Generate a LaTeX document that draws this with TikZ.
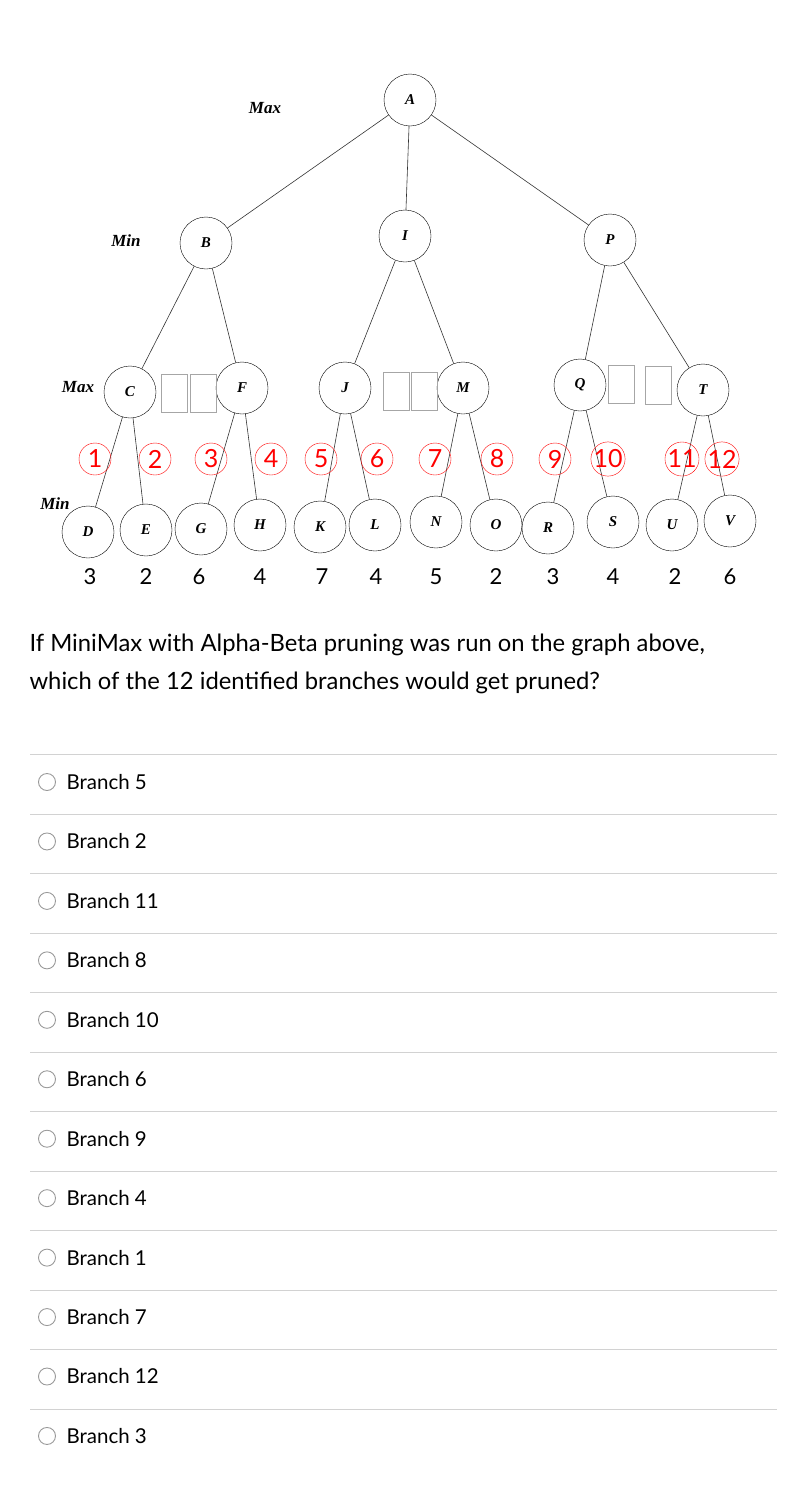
\documentclass[tikz,border=0pt]{standalone}
\usepackage{fontspec}
\setmainfont{Liberation Serif}
\newfontfamily\lato{Lato}
\begin{document}
\begin{tikzpicture}[x=1pt,y=-1pt,
  tn/.style={draw,circle,minimum size=52pt,inner sep=0pt,font=\fontsize{15}{15}\selectfont\bfseries\itshape},
  cn/.style={draw=red,circle,minimum size=32pt,inner sep=0pt,text=red,font=\lato\fontsize{25}{25}\selectfont},
  lv/.style={font=\fontsize{17}{17}\selectfont\bfseries\itshape},
  val/.style={font=\lato\fontsize{22}{22}\selectfont},
  bx/.style={draw=gray!70,minimum width=26pt,minimum height=38pt,inner sep=0pt},
  sep/.style={draw=gray!35,line width=0.8pt},
  opt/.style={anchor=west,font=\lato\fontsize{20.5}{20.5}\selectfont},
  rad/.style={draw=gray!80,circle,minimum size=17pt,inner sep=0pt,line width=0.9pt},
  ed/.style={draw=black!80,line width=0.6pt}]
\useasboundingbox (0,0) rectangle (807,1491);
\node[tn] (A) at (410,100) {A};
\node[tn] (B) at (206,243) {B};
\node[tn] (I) at (405,236) {I};
\node[tn] (P) at (610,240) {P};
\node[tn] (C) at (130,392) {C};
\node[tn] (F) at (242,388) {F};
\node[tn] (J) at (345,388) {J};
\node[tn] (M) at (463,388) {M};
\node[tn] (Q) at (580,385) {Q};
\node[tn] (T) at (703,390) {T};
\foreach \n/\x/\y in {D/88/532,E/146/530,G/201/529,H/260/525,K/320/527,L/375/525,N/436/522,O/496/525,R/548/528,S/613/522,U/672/525,V/730/521}
  \node[tn] (\n) at (\x,\y) {\n};
\foreach \a/\b in {A/B,A/I,A/P,B/C,B/F,I/J,I/M,P/Q,P/T,C/D,C/E,F/G,F/H,J/K,J/L,M/N,M/O,Q/R,Q/S,T/U,T/V}
  \draw[ed] (\a) -- (\b);
\node[bx] (b1) at (174,393) {};
\node[bx] (b2) at (203,393) {};
\node[bx] (b3) at (396,391) {};
\node[bx] (b4) at (424,391) {};
\node[bx] (b5) at (621,384) {};
\node[bx] (b6) at (658,385) {};
\foreach \i/\x in {1/95,2/155,3/211,4/271,5/321,6/377,7/435,8/497,9/555,10/608,11/682,12/722}
  \node[cn] (c\i) at (\x,459) {\i};
\foreach \i/\x/\v in {1/90/3,2/146/2,3/199/6,4/260/4,5/322/7,6/376/4,7/436/5,8/496/2,9/553/3,10/613/4,11/675/2,12/730/6}
  \node[val] (v\i) at (\x,577) {\v};
\node[lv] (l1) at (265,108) {Max};
\node[lv] (l2) at (126,241) {Min};
\node[lv] (l3) at (78,387) {Max};
\node[lv] (l4) at (55,504) {Min};
\node[anchor=west,font=\lato\fontsize{23.8}{23.8}\selectfont] (q1) at (26,645) {If MiniMax with Alpha-Beta pruning was run on the graph above,};
\node[anchor=west,font=\lato\fontsize{23.8}{23.8}\selectfont] (q2) at (26,683) {which of the 12 identified branches would get pruned?};
\foreach \y in {754,814,873,933,992,1052,1111,1171,1230,1290,1349,1409}
  \draw[sep] (30,\y) -- (777,\y);
\foreach \k/\t in {0/5,1/2,2/11,3/8,4/10,5/6,6/9,7/4,8/1,9/7,10/12,11/3}{
  \node[rad] (r\k) at (47,782+59.45*\k) {};
  \node[opt] (o\k) at (63,782+59.45*\k) {Branch \t};
}
\end{tikzpicture}
\end{document}
